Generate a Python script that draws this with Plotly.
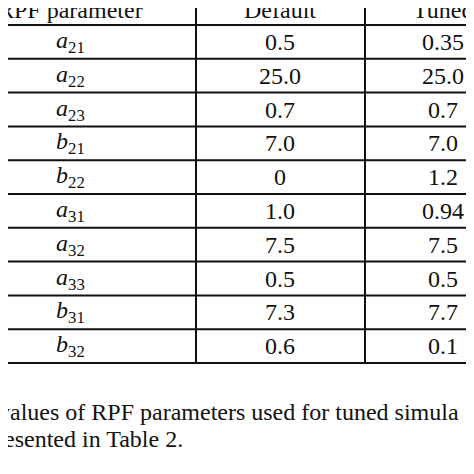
import plotly.graph_objects as go

headers = ['RPF parameter', 'Default', 'Tuned']
param_letters = ['a', 'a', 'a', 'b', 'b', 'a', 'a', 'a', 'b', 'b']
param_subs = ['21', '22', '23', '21', '22', '31', '32', '33', '31', '32']
default_vals = ['0.5', '25.0', '0.7', '7.0', '0', '1.0', '7.5', '0.5', '7.3', '0.6']
tuned_vals = ['0.35', '25.0', '0.7', '7.0', '1.2', '0.94', '7.5', '0.5', '7.7', '0.1']
caption = ['values of RPF parameters used for tuned simula',
           'resented in Table 2.']

# page body has an 8px margin; axis values are page pixels
off = 8
col_centers = [70, 280, 443]
col_edges = [196, 365]
top_line = 25
row_h = 33.8
font = dict(family='Liberation Serif', size=24, color='#111')

fig = go.Figure()
ann = []
for x, h in zip(col_centers, headers):
    ann.append(dict(x=x, y=10, text=h))
for i in range(len(param_letters)):
    y = top_line + row_h * (i + 0.5)
    ann.append(dict(x=col_centers[0], y=y,
                    text='<i>%s</i><sub>%s</sub>' % (param_letters[i], param_subs[i])))
    ann.append(dict(x=col_centers[1], y=y, text=default_vals[i]))
    ann.append(dict(x=col_centers[2], y=y, text=tuned_vals[i]))
for a in ann:
    a.update(xref='x', yref='y', showarrow=False, font=font,
             xanchor='center', yanchor='middle')
for j, (xv, yv) in enumerate([(-4, 412), (-6, 439)]):
    ann.append(dict(x=(xv - off) / 474, y=1 - (yv - off) / 474, text=caption[j],
                    xref='paper', yref='paper', showarrow=False,
                    font=font, xanchor='left', yanchor='middle'))

bottom = top_line + row_h * len(param_letters)
shapes = []
for i in range(len(param_letters) + 1):
    y = top_line + row_h * i
    shapes.append(dict(type='line', x0=off, x1=474 + off, y0=y, y1=y,
                       line=dict(color='#111', width=2)))
for x in col_edges:
    shapes.append(dict(type='line', x0=x, x1=x, y0=off, y1=bottom,
                       line=dict(color='#111', width=2)))
for s in shapes:
    s.update(xref='x', yref='y')

fig.update_layout(
    width=474, height=474,
    margin=dict(l=0, r=0, t=0, b=0),
    paper_bgcolor='white', plot_bgcolor='white',
    xaxis=dict(range=[off, 474 + off], visible=False, fixedrange=True),
    yaxis=dict(range=[474 + off, off], visible=False, fixedrange=True),
    annotations=ann, shapes=shapes, showlegend=False,
)
fig.write_html('out.html')
